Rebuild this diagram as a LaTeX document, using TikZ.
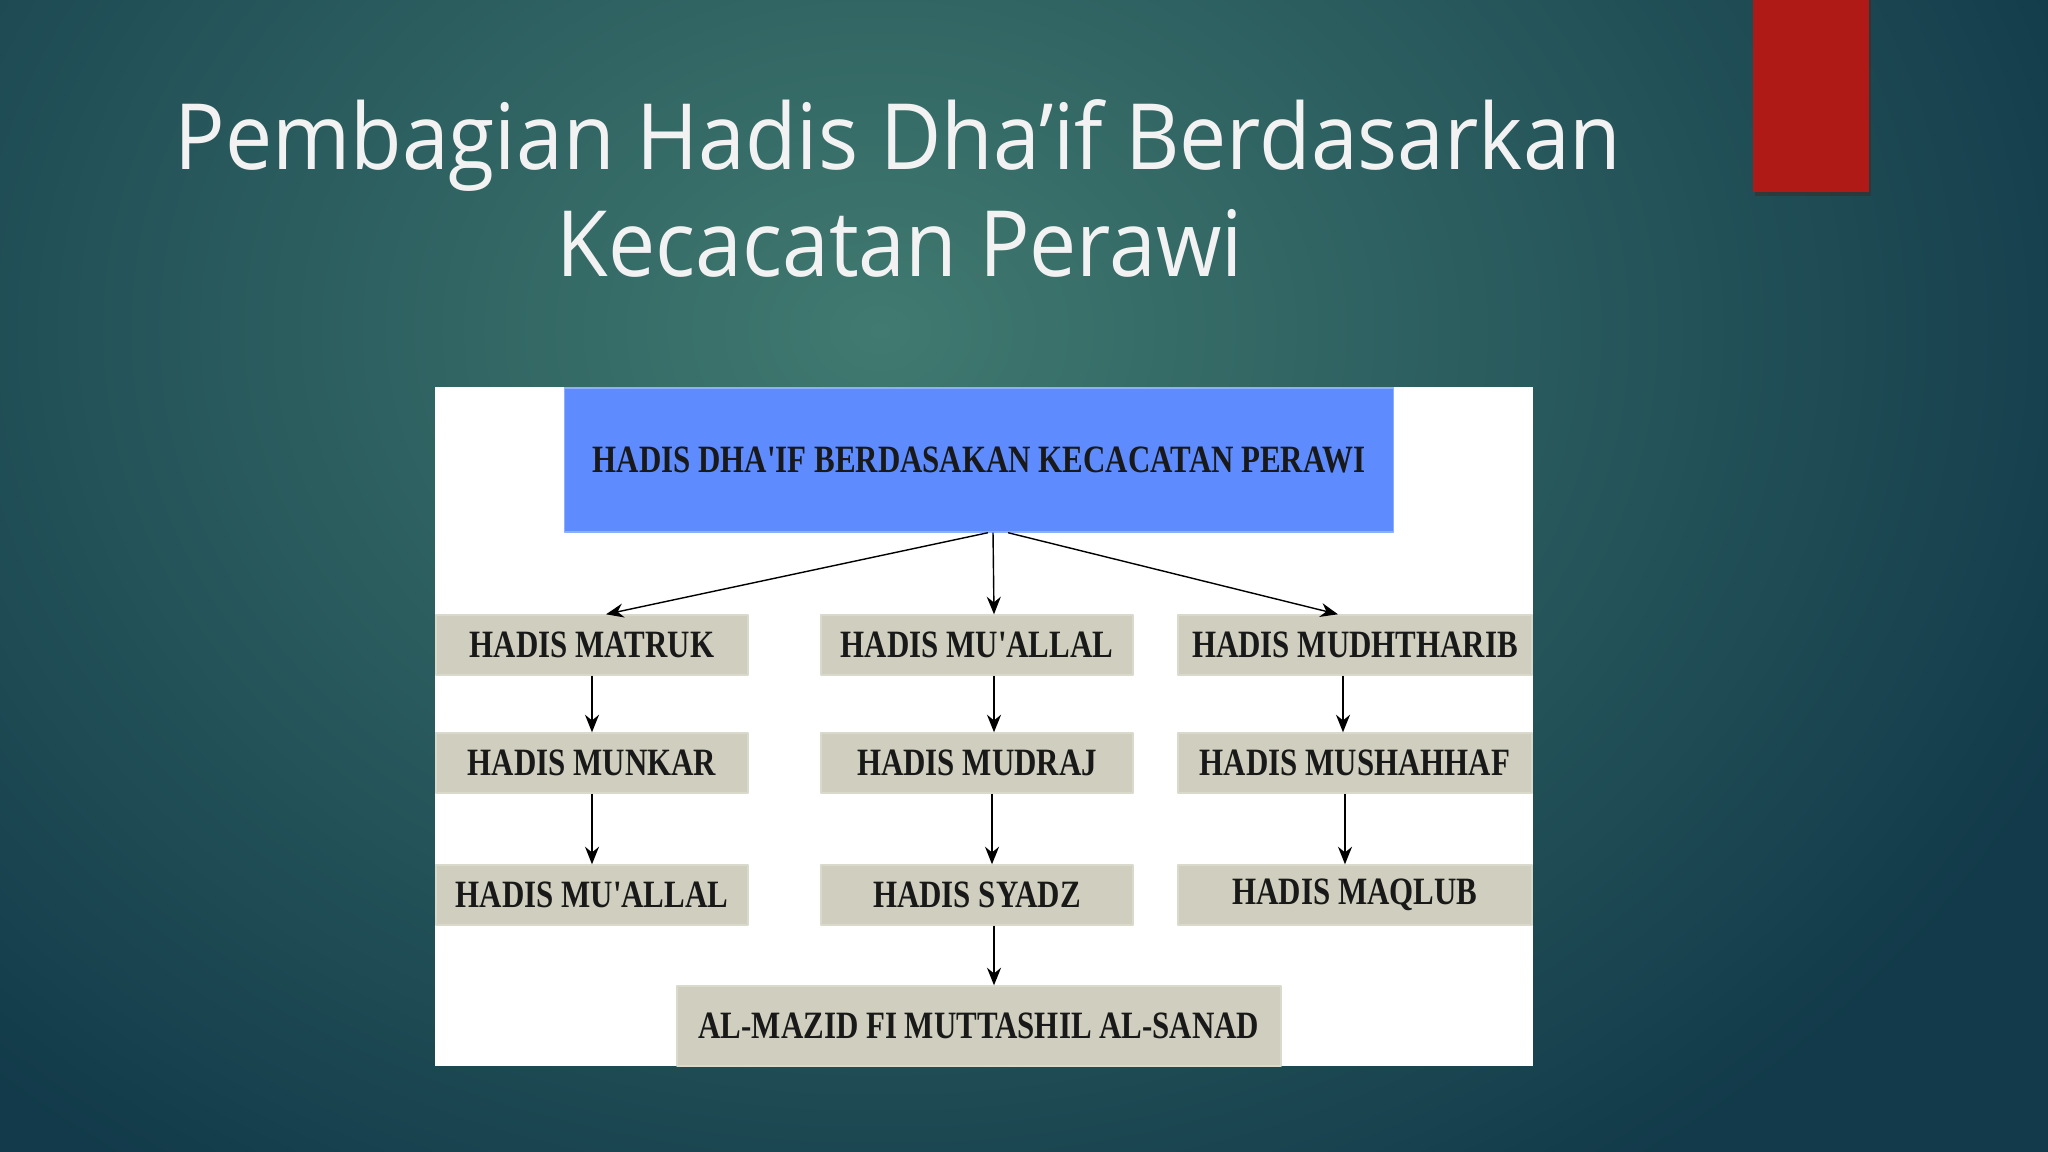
\documentclass[tikz,border=0pt]{standalone}
\usepackage{fontspec}
\setmainfont{Open Sans}
\newfontfamily\titlefont[FakeStretch=0.92]{Open Sans}
\newfontfamily\boxfont[FakeStretch=0.8]{Liberation Serif}
\usetikzlibrary{arrows.meta}
\definecolor{bgin}{RGB}{64,122,112}
\definecolor{bgout}{RGB}{18,58,74}
\definecolor{redbar}{RGB}{176,26,22}
\definecolor{topblue}{RGB}{94,140,255}
\definecolor{boxgray}{RGB}{208,207,191}
\begin{document}
\begin{tikzpicture}[x=0.01cm, y=-0.01cm, line join=round, >={Stealth[length=5pt,width=4pt]},
	box/.style={fill=boxgray, draw=boxgray!80!white, inner sep=0pt, minimum width=312*0.01cm, minimum height=60*0.01cm, font=\boxfont\bfseries\fontsize{11}{13}\selectfont, text=black!90},
	title/.style={text=white!95!black, font=\titlefont\fontsize{26}{30}\selectfont, anchor=base}]
			\useasboundingbox (0,0) rectangle (2048,1152);
			% background
			\begin{scope}
			\clip (0,0) rectangle (2048,1152);
			\shade[inner color=bgin, outer color=bgout] (-420,-700) rectangle (2180,1360);
			\end{scope}
			\fill[black!80, opacity=0.7] (1755,0) rectangle (1871,196);
			\fill[redbar] (1753,0) rectangle (1869,192);
			% title
			\node[title] (L1) at (898,170) {Pembagian Hadis Dha’if Berdasarkan};
			\node[title] (L2) at (900,277) {Kecacatan Perawi};
			% panel
			\fill[white] (435,387) rectangle (1533,1066);
			\node[box, fill=topblue, draw=topblue!70!white, minimum width=829*0.01cm, minimum height=144*0.01cm] (T) at (979,460) {HADIS DHA'IF BERDASAKAN KECACATAN PERAWI};
			\node[box] (A1) at (592,645) {HADIS MATRUK};
			\node[box] (B1) at (977,645) {HADIS MU'ALLAL};
			\node[box, minimum width=354*0.01cm] (C1) at (1355,645) {HADIS MUDHTHARIB};
			\node[box] (A2) at (592,763) {HADIS MUNKAR};
			\node[box] (B2) at (977,763) {HADIS MUDRAJ};
			\node[box, minimum width=354*0.01cm] (C2) at (1355,763) {HADIS MUSHAHHAF};
			\node[box] (A3) at (592,895) {HADIS MU'ALLAL};
			\node[box] (B3) at (977,895) {HADIS SYADZ};
			\node[box, minimum width=354*0.01cm] (C3) at (1355,895) {HADIS MAQLUB};
			\node[box, minimum width=604*0.01cm, minimum height=80*0.01cm] (D) at (979,1026) {AL-MAZID FI MUTTASHIL AL-SANAD};
			% arrows
			\draw[->] ([xshift=0.09cm]T.south) -- ([xshift=0.14cm]A1.north);
			\draw[->] ([xshift=0.14cm]T.south) -- ([xshift=0.17cm]B1.north);
			\draw[->] ([xshift=0.29cm]T.south) -- ([xshift=-0.17cm]C1.north);
			\foreach \u/\v/\s in {A1/A2/0,A2/A3/0,B1/B2/0.17,B2/B3/0.15,B3/D/0.17,C1/C2/-0.12,C2/C3/-0.1} \draw[->] ([xshift=\s cm]\u.south) -- ([xshift=\s cm]\u.south |- \v.north);
			\end{tikzpicture}
\end{document}
